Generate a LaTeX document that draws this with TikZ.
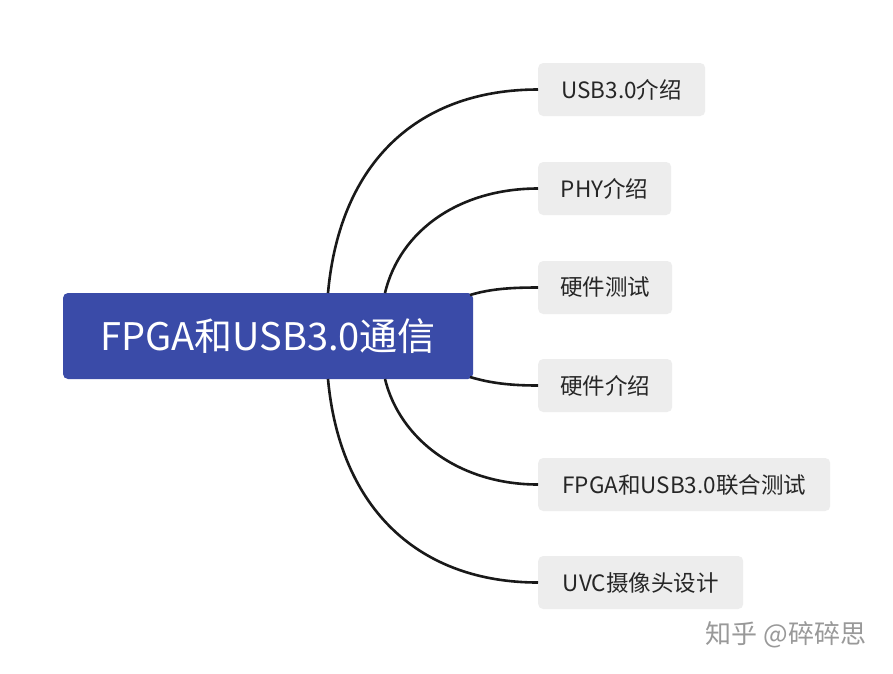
\documentclass[tikz,border=0pt]{standalone}
\usepackage{fontspec}
\setmainfont{Noto Sans CJK SC}
\begin{document}
\begin{tikzpicture}[x=1pt,y=-1pt,
  child/.style={fill=black!7,rounded corners=5pt,anchor=west,minimum height=53pt,inner xsep=22pt,font=\fontsize{22.5}{26}\selectfont,text=black!85},
  link/.style={line width=2.6pt,black!90}]
\useasboundingbox (0,0) rectangle (893,673);
\fill[white] (0,0) rectangle (893,673);
\node[fill={rgb,255:red,58;green,75;blue,168},rounded corners=5pt,minimum width=410pt,minimum height=86pt,text=white,font=\fontsize{38}{44}\selectfont] (c) at (268,336) {FPGA和USB3.0通信};
\node[child,minimum width=167pt] (n1) at (538,89.5) {USB3.0介绍};
\node[child,minimum width=133pt] (n2) at (538,188.5) {PHY介绍};
\node[child,minimum width=133pt] (n3) at (538,287.5) {硬件测试};
\node[child,minimum width=133pt] (n4) at (538,385.5) {硬件介绍};
\node[child,minimum width=292pt] (n5) at (538,484.5) {FPGA和USB3.0联合测试};
\node[child,minimum width=205pt] (n6) at (538,582.5) {UVC摄像头设计};
\coordinate (s1) at (328,293); \coordinate (s6) at (328,379);
\coordinate (s2) at (385,293); \coordinate (s5) at (385,379);
\coordinate (s3) at (470,295); \coordinate (s4) at (470,377);
\draw[link] (s1) .. controls (340,160) and (420,89.5) .. (n1.west);
\draw[link] (s2) .. controls (400,230) and (460,188.5) .. (n2.west);
\draw[link] (s3) .. controls (490,289) and (510,287.5) .. (n3.west);
\draw[link] (s4) .. controls (490,383) and (510,385.5) .. (n4.west);
\draw[link] (s5) .. controls (400,440) and (460,484.5) .. (n5.west);
\draw[link] (s6) .. controls (340,510) and (420,582.5) .. (n6.west);
\node[text=black!40,font=\fontsize{26}{30}\selectfont] (wm) at (786,635) {知乎 @碎碎思};
\end{tikzpicture}
\end{document}
